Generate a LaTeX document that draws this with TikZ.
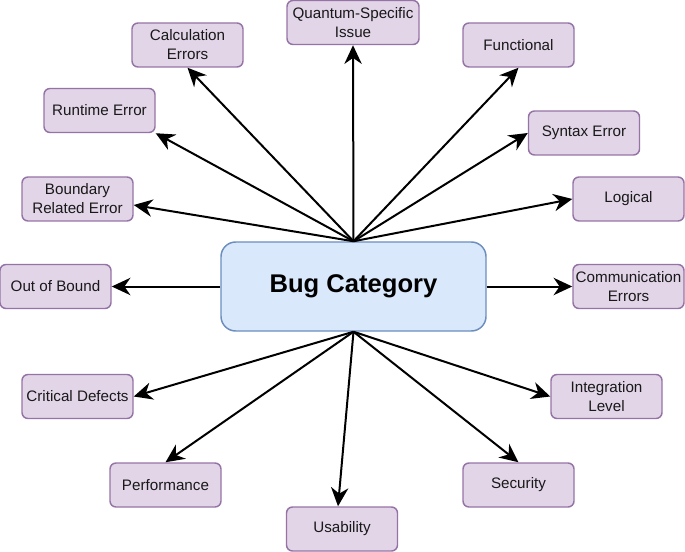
\documentclass[tikz,border=0pt]{standalone}
\usepackage{fontspec}
\setmainfont{Liberation Sans}
\usetikzlibrary{arrows.meta}
\definecolor{leaffill}{HTML}{E1D5E7}
\definecolor{leafline}{HTML}{9673A6}
\definecolor{hubfill}{HTML}{DAE8FC}
\definecolor{hubline}{HTML}{6C8EBF}
\tikzset{
  leaf/.style={draw=leafline, fill=leaffill, line width=1.1pt, rounded corners=4.5pt,
    minimum width=83.25pt, minimum height=33pt, inner sep=1pt, align=center,
    font=\fontsize{11.4}{14.3}\selectfont, text=black!90},
  hub/.style={draw=hubline, fill=hubfill, line width=1.1pt, rounded corners=11pt,
    minimum width=198.75pt, minimum height=66.75pt, font=\fontsize{19.2}{23}\selectfont\bfseries},
  link/.style={line width=1.5pt, -{Stealth[length=14pt,width=13pt,inset=4.5pt]}}
}
\begin{document}
\begin{tikzpicture}[x=0.75pt,y=-0.75pt]
\useasboundingbox (0,0) rectangle (685,552);
\node[hub] (hub) at (353.5,286.5) {Bug Category};
\node[leaf] (calc) at (187.5,45) {Calculation\\Errors};
\node[leaf, minimum width=99pt] (quant) at (353,22.5) {Quantum-Specific\\Issue};
\node[leaf] (func) at (518.5,45) {Functional};
\node[leaf] (run) at (99.5,110.5) {Runtime Error};
\node[leaf] (syn) at (584,133) {Syntax Error};
\node[leaf] (bound) at (77.5,199) {Boundary\\Related Error};
\node[leaf] (logic) at (628.5,199) {Logical};
\node[leaf] (oob) at (55.5,286.5) {Out of Bound};
\node[leaf] (comm) at (628.5,286.5) {Communication\\Errors};
\node[leaf] (crit) at (77.5,396.5) {Critical Defects};
\node[leaf] (integ) at (606.5,396.5) {Integration\\Level};
\node[leaf] (perf) at (165.5,485) {Performance};
\node[leaf] (sec) at (518.5,485) {Security};
\node[leaf] (usab) at (342,529) {Usability};

\draw[link] (hub.north) -- (calc.south);
\draw[link] (hub.north) -- (quant.south);
\draw[link] (hub.north) -- (func.south);
\draw[link] (hub.north) -- (run.south east);
\draw[link] (hub.north) -- (syn.west);
\draw[link] (hub.north) -- ([yshift=-4.5pt]bound.east);
\draw[link] (hub.north) -- (logic.west);
\draw[link] (hub.west) -- (oob.east);
\draw[link] (hub.east) -- (comm.west);
\draw[link] (hub.south) -- (crit.east);
\draw[link] (hub.south) -- (integ.west);
\draw[link] (hub.south) -- (perf.north);
\draw[link] (hub.south) -- (sec.north);
\draw[link] (hub.south) -- ([xshift=-3pt]usab.north);
\end{tikzpicture}
\end{document}
